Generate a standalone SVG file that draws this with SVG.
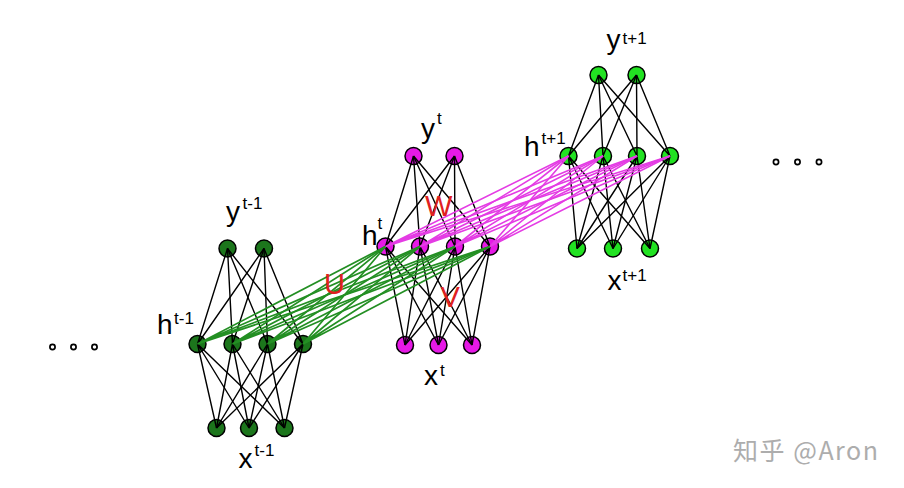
<svg xmlns="http://www.w3.org/2000/svg" width="904" height="488" viewBox="0 0 904 488">
<style>
.bg{fill:#ffffff}
.n{stroke:#000;stroke-width:1.5}
.dg{fill:#1c761c}
.mg{fill:#e619e6}
.lg{fill:#22e222}
.k{fill:none;stroke:#000;stroke-width:1.4}
.g{fill:none;stroke:#238f23;stroke-width:1.7}
.m{fill:none;stroke:#e43ce4;stroke-width:1.6}
.dot{fill:none;stroke:#000;stroke-width:1.7}
.lab{font-family:"Liberation Sans",Arial,sans-serif;font-size:28px;fill:#000}
.sup{font-size:17px}
.red{font-family:"Liberation Sans",Arial,sans-serif;font-size:29px;fill:#e02020}
.wm{font-family:"Noto Sans CJK SC",sans-serif;font-size:25px;fill:#adadad}
</style>
<rect class="bg" x="0" y="0" width="904" height="488"/>

<g id="net-t-1">
<circle class="n dg" cx="227.5" cy="248.5" r="8.5"/>
<circle class="n dg" cx="264" cy="248.5" r="8.5"/>
<circle class="n dg" cx="197.5" cy="344" r="8.5"/>
<circle class="n dg" cx="232.5" cy="344" r="8.5"/>
<circle class="n dg" cx="267.5" cy="344" r="8.5"/>
<circle class="n dg" cx="303" cy="344" r="8.5"/>
<circle class="n dg" cx="216.5" cy="428" r="8.5"/>
<circle class="n dg" cx="249" cy="428" r="8.5"/>
<circle class="n dg" cx="284.5" cy="428" r="8.5"/>
</g>
<g id="net-t">
<circle class="n mg" cx="413.5" cy="156" r="8.5"/>
<circle class="n mg" cx="454.5" cy="156" r="8.5"/>
<circle class="n mg" cx="385.5" cy="246.5" r="8.5"/>
<circle class="n mg" cx="420" cy="246.5" r="8.5"/>
<circle class="n mg" cx="455" cy="246.5" r="8.5"/>
<circle class="n mg" cx="490" cy="246.5" r="8.5"/>
<circle class="n mg" cx="405" cy="345" r="8.5"/>
<circle class="n mg" cx="438.5" cy="345" r="8.5"/>
<circle class="n mg" cx="472" cy="345" r="8.5"/>
</g>
<g id="net-t+1">
<circle class="n lg" cx="598.5" cy="75" r="8.5"/>
<circle class="n lg" cx="636.5" cy="75" r="8.5"/>
<circle class="n lg" cx="568.5" cy="156" r="8.5"/>
<circle class="n lg" cx="603" cy="156" r="8.5"/>
<circle class="n lg" cx="637" cy="156" r="8.5"/>
<circle class="n lg" cx="670" cy="156" r="8.5"/>
<circle class="n lg" cx="577" cy="248.5" r="8.5"/>
<circle class="n lg" cx="613" cy="248.5" r="8.5"/>
<circle class="n lg" cx="650" cy="248.5" r="8.5"/>
</g>

<g id="connectors">
<path class="k" d="M197.5 344L227.5 248.5M197.5 344L264 248.5M197.5 344L216.5 428M197.5 344L249 428M197.5 344L284.5 428"/>
<path class="k" d="M232.5 344L227.5 248.5M232.5 344L264 248.5M232.5 344L216.5 428M232.5 344L249 428M232.5 344L284.5 428"/>
<path class="k" d="M267.5 344L227.5 248.5M267.5 344L264 248.5M267.5 344L216.5 428M267.5 344L249 428M267.5 344L284.5 428"/>
<path class="k" d="M303 344L227.5 248.5M303 344L264 248.5M303 344L216.5 428M303 344L249 428M303 344L284.5 428"/>

<path class="k" d="M385.5 246.5L413.5 156M385.5 246.5L454.5 156M385.5 246.5L405 345M385.5 246.5L438.5 345M385.5 246.5L472 345"/>
<path class="k" d="M420 246.5L413.5 156M420 246.5L454.5 156M420 246.5L405 345M420 246.5L438.5 345M420 246.5L472 345"/>
<path class="k" d="M455 246.5L413.5 156M455 246.5L454.5 156M455 246.5L405 345M455 246.5L438.5 345M455 246.5L472 345"/>
<path class="k" d="M490 246.5L413.5 156M490 246.5L454.5 156M490 246.5L405 345M490 246.5L438.5 345M490 246.5L472 345"/>

<path class="k" d="M568.5 156L598.5 75M568.5 156L636.5 75M568.5 156L577 248.5M568.5 156L613 248.5M568.5 156L650 248.5"/>
<path class="k" d="M603 156L598.5 75M603 156L636.5 75M603 156L577 248.5M603 156L613 248.5M603 156L650 248.5"/>
<path class="k" d="M637 156L598.5 75M637 156L636.5 75M637 156L577 248.5M637 156L613 248.5M637 156L650 248.5"/>
<path class="k" d="M670 156L598.5 75M670 156L636.5 75M670 156L577 248.5M670 156L613 248.5M670 156L650 248.5"/>

<path class="g" d="M197.5 344L385.5 246.5M197.5 344L420 246.5M197.5 344L455 246.5M197.5 344L490 246.5"/>
<path class="g" d="M232.5 344L385.5 246.5M232.5 344L420 246.5M232.5 344L455 246.5M232.5 344L490 246.5"/>
<path class="g" d="M267.5 344L385.5 246.5M267.5 344L420 246.5M267.5 344L455 246.5M267.5 344L490 246.5"/>
<path class="g" d="M303 344L385.5 246.5M303 344L420 246.5M303 344L455 246.5M303 344L490 246.5"/>

<path class="m" d="M385.5 246.5L568.5 156M385.5 246.5L603 156M385.5 246.5L637 156M385.5 246.5L670 156"/>
<path class="m" d="M420 246.5L568.5 156M420 246.5L603 156M420 246.5L637 156M420 246.5L670 156"/>
<path class="m" d="M455 246.5L568.5 156M455 246.5L603 156M455 246.5L637 156M455 246.5L670 156"/>
<path class="m" d="M490 246.5L568.5 156M490 246.5L603 156M490 246.5L637 156M490 246.5L670 156"/>
</g>

<g id="ellipsis-left">
<circle class="dot" cx="52.5" cy="347" r="2.6"/>
<circle class="dot" cx="73.5" cy="347" r="2.6"/>
<circle class="dot" cx="94.5" cy="347" r="2.6"/>
</g>
<g id="ellipsis-right">
<circle class="dot" cx="776" cy="162" r="2.6"/>
<circle class="dot" cx="797.5" cy="162" r="2.6"/>
<circle class="dot" cx="819" cy="162" r="2.6"/>
</g>

<g id="labels">
<text class="lab"><tspan x="226" y="221">y</tspan><tspan class="sup" x="242.5" y="209">t-1</tspan></text>
<text class="lab"><tspan x="157" y="334">h</tspan><tspan class="sup" x="174" y="324">t-1</tspan></text>
<text class="lab"><tspan x="238.5" y="468">x</tspan><tspan class="sup" x="254.5" y="456">t-1</tspan></text>
<text class="lab"><tspan x="421" y="138">y</tspan><tspan class="sup" x="437" y="124">t</tspan></text>
<text class="lab"><tspan x="362" y="245">h</tspan><tspan class="sup" x="377.5" y="229">t</tspan></text>
<text class="lab"><tspan x="424" y="385">x</tspan><tspan class="sup" x="440" y="376">t</tspan></text>
<text class="lab"><tspan x="606.5" y="49">y</tspan><tspan class="sup" x="622.5" y="44">t+1</tspan></text>
<text class="lab"><tspan x="524" y="156">h</tspan><tspan class="sup" x="541.5" y="144">t+1</tspan></text>
<text class="lab"><tspan x="607.5" y="290">x</tspan><tspan class="sup" x="622.5" y="281">t+1</tspan></text>
<text class="red" x="324" y="294">U</text>
<text class="red" x="425" y="216">W</text>
<text class="red" x="440.5" y="307">V</text>
<text class="wm" x="733" y="460" textLength="145" lengthAdjust="spacing">知乎 @Aron</text>
</g>
</svg>
